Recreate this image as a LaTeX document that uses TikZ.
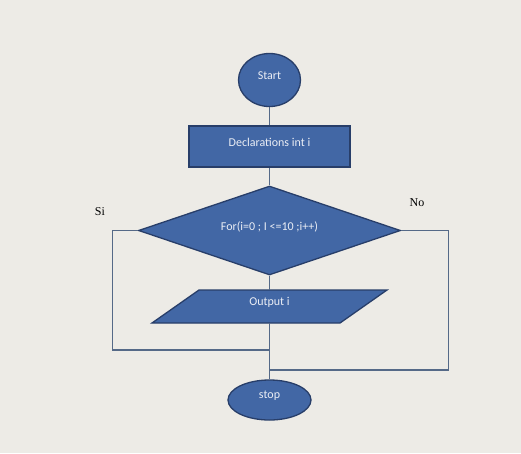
\documentclass[tikz,border=0pt]{standalone}
\usepackage{fontspec}
\setmainfont{Carlito}
\newfontfamily\sideserif{Liberation Serif}
\usetikzlibrary{shapes.geometric}
\definecolor{bg}{RGB}{237,235,230}
\definecolor{boxfill}{RGB}{66,103,165}
\definecolor{boxline}{RGB}{40,62,105}
\definecolor{wirecol}{RGB}{85,105,135}
\definecolor{txtcol}{RGB}{235,238,245}
\begin{document}
\begin{tikzpicture}[x=1pt,y=-1pt,
  shapebox/.style={fill=boxfill, draw=boxline, line width=1.3pt, inner sep=0pt},
  lab/.style={text=txtcol, font=\fontsize{12}{14}\selectfont, yshift=4pt},
  wire/.style={draw=wirecol, line width=1.1pt},
  side/.style={font=\sideserif\fontsize{12}{14}\selectfont, text=black}]
\fill[bg] (0,0) rectangle (521,453);
\useasboundingbox (0,0) rectangle (521,453);
\node[shapebox, ellipse, minimum width=62pt, minimum height=53pt,
  label={[lab]center:Start}] (start) at (269.5,80) {};
\node[shapebox, rectangle, minimum width=161pt, minimum height=41pt,
  label={[lab]center:Declarations int i}] (decl) at (269.5,146.5) {};
\node[shapebox, diamond, aspect=3, minimum width=262pt, minimum height=89pt,
  label={[lab]center:For(i=0 ; I <=10 ;i++)}] (loop) at (269.5,230.5) {};
% parallelogram drawn directly, named node on top of it
\draw[shapebox, shift={(269.5,306.5)}] (-70.5,-16.5) -- (117.5,-16.5) -- (70.5,16.5) -- (-117.5,16.5) -- cycle;
\node[rectangle, minimum width=188pt, minimum height=33pt, inner sep=0pt,
  label={[lab]center:Output i}] (out) at (269.5,306.5) {};
\node[shapebox, ellipse, minimum width=83pt, minimum height=40pt,
  label={[lab]center:stop}] (stop) at (269.5,400) {};
\coordinate (jl) at (269.5,350);
\coordinate (jr) at (269.5,370);
\draw[wire] (start) -- (decl);
\draw[wire] (decl) -- (loop);
\draw[wire] (loop) -- (out);
\draw[wire] (out) -- (stop);
\draw[wire] (loop.west) -- ++(-25,0) |- (jl);
\draw[wire] (loop.east) -- ++(47,0) |- (jr);
\node[side] (si) at (100,212) {Si};
\node[side] (no) at (417,203) {No};
\end{tikzpicture}
\end{document}
